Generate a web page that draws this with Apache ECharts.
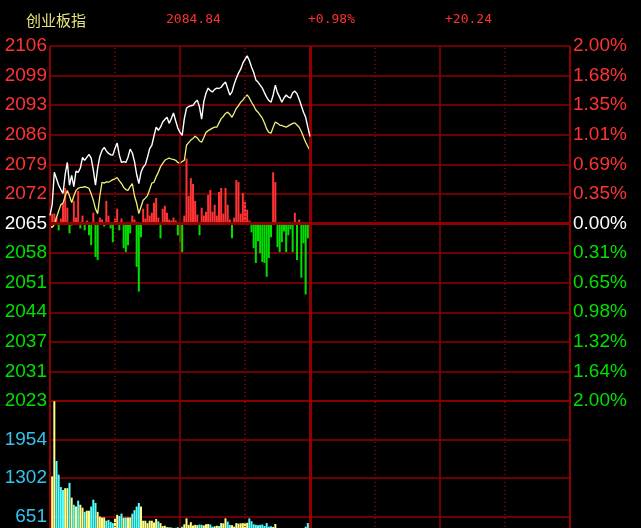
<!DOCTYPE html>
<html>
<head>
<meta charset="utf-8">
<script src="https://cdn.jsdelivr.net/npm/echarts@6/dist/echarts.min.js"></script>
<style>
html,body{margin:0;padding:0;background:#000;overflow:hidden;width:641px;height:528px;}
#chart{width:641px;height:560px;}
</style>
</head>
<body>
<div id="chart"></div>
<script>
// ---- data ----
const headerName = '创业板指';
const headerLast = '2084.84';
const headerPct = '+0.98%';
const headerChg = '+20.24';
const preClose = 2064.60;
const volMax = 2605.6;

const leftLabels = ['2023','2031','2037','2044','2051','2058','2065','2072','2079','2086','2093','2099','2106'];
const rightLabels = ['2.00%','1.64%','1.32%','0.98%','0.65%','0.31%','0.00%','0.35%','0.69%','1.01%','1.35%','1.68%','2.00%'];
const volLabels = ['651','1302','1954'];

// minute prices 9:30 .. 11:30
const priceData = [
2066.5,2069.0,2076.5,2075.0,2073.5,2072.5,2071.6,2076.0,2078.8,2073.5,
2075.8,2073.2,2076.8,2076.5,2077.5,2080.0,2079.3,2080.0,2080.7,2079.8,
2077.0,2073.5,2077.5,2080.2,2081.6,2082.3,2081.5,2080.9,2080.6,2080.5,
2082.1,2083.3,2080.5,2078.8,2079.0,2078.8,2080.0,2081.9,2081.0,2079.0,
2076.0,2073.9,2076.5,2077.7,2078.3,2080.0,2082.0,2082.8,2085.0,2087.0,
2086.3,2087.0,2088.2,2088.8,2089.3,2087.9,2089.0,2090.3,2088.5,2086.8,
2085.8,2085.1,2089.0,2091.4,2091.8,2092.0,2092.1,2092.8,2093.3,2091.7,
2088.9,2093.0,2094.9,2096.1,2095.5,2095.2,2095.8,2096.1,2096.0,2096.3,
2097.0,2097.5,2096.0,2094.5,2095.2,2097.0,2098.4,2099.6,2100.5,2101.9,
2102.8,2103.6,2102.5,2101.0,2099.8,2098.0,2097.5,2096.8,2096.1,2095.0,
2094.0,2093.2,2092.8,2094.5,2096.8,2095.0,2094.0,2092.8,2093.8,2094.5,
2094.0,2093.8,2095.0,2095.4,2094.8,2093.5,2092.0,2090.5,2089.3,2087.0,
2084.84
];
const avgData = [
2064.0,2063.7,2064.4,2066.0,2067.5,2069.0,2069.3,2071.0,2072.3,2071.0,
2069.5,2071.0,2072.3,2072.8,2073.0,2073.0,2073.2,2073.0,2072.8,2071.5,
2070.0,2068.0,2066.9,2071.0,2074.2,2074.0,2074.3,2074.2,2074.5,2074.8,
2075.0,2075.3,2074.5,2073.9,2073.0,2072.5,2072.3,2073.2,2073.9,2071.0,
2069.3,2066.9,2068.5,2070.0,2070.5,2071.1,2072.5,2074.0,2074.2,2075.5,
2076.5,2077.8,2078.6,2079.3,2079.6,2079.8,2079.6,2079.5,2079.3,2078.8,
2078.6,2079.0,2079.3,2082.8,2083.4,2084.0,2084.4,2084.9,2084.5,2083.8,
2083.5,2084.6,2085.8,2086.2,2086.5,2086.8,2087.0,2087.0,2088.0,2089.0,
2089.5,2090.2,2090.5,2090.0,2089.3,2090.3,2091.4,2092.0,2092.8,2093.3,
2094.0,2094.5,2093.8,2092.8,2092.0,2091.0,2090.5,2089.8,2089.1,2088.0,
2086.6,2085.8,2085.6,2087.0,2088.2,2087.9,2087.5,2087.4,2087.2,2087.0,
2087.3,2087.6,2087.9,2088.0,2087.5,2087.0,2086.0,2084.7,2083.5,2082.5,
2081.6
];
// red (+) / green (-) leading bars
const leadData = [
8,10,10,6,-7,5,20,36,16,-10,
-2,23,6,33,-5,8,-7,3,-12,-22,
11,-34,-37,6,4,-3,23,8,-5,-19,
5,15,-7,5,-25,-29,-22,-10,8,4,
-44,-69,-14,15,5,20,8,11,21,26,
6,-15,15,18,11,4,3,6,3,-12,
-19,-29,8,66,28,46,40,23,9,-12,
16,8,12,29,34,12,19,8,32,36,
10,36,19,4,-15,6,44,42,10,31,
22,14,3,-9,-25,-40,-18,-30,-39,-40,
-54,-35,-14,52,42,-24,-29,-19,-8,-29,
-12,-6,-29,11,-37,4,-55,-20,-72,-15,
-30
];
const volumeData = [
0,1330,2600,1590,1360,1150,1100,1130,1130,1220,
970,850,820,920,850,800,730,750,750,820,
935,880,730,650,635,635,580,595,560,540,
620,680,660,700,630,635,635,635,700,760,
820,880,820,580,580,540,580,580,550,610,
570,540,490,495,470,470,465,450,460,470,
455,480,520,620,510,555,500,510,505,515,
510,500,520,525,515,480,485,495,490,540,
535,620,565,510,505,480,540,530,535,540,
535,545,620,570,520,510,505,510,515,490,
540,480,485,475,525,440,430,445,420,430,
435,410,425,420,430,415,440,450,480,540,
635
];

// ---- categories: full trading day ----
const categories = [];
function pad(n){return (n<10?'0':'')+n;}
for (let m = 9*60+30; m <= 11*60+30; m++) categories.push(Math.floor(m/60)+':'+pad(m%60));
for (let m = 13*60+1; m <= 15*60; m++) categories.push(Math.floor(m/60)+':'+pad(m%60));

function padTo(arr){ const out = arr.slice(); while(out.length < categories.length) out.push(null); return out; }

const RED = '#ff3333', GREEN = '#00e000', GRID = '#8f0000';
const labelFont = '"Liberation Sans", Arial, sans-serif';

function vLines(){
  const solid = (i,w)=>({xAxis: categories[i], lineStyle:{color:GRID, width:w, type:'solid'}});
  const dot = (i)=>({xAxis: categories[i], lineStyle:{color:'#a00000', width:1.5, type:[1,3]}});
  return [solid(0,2), dot(30), solid(60,1.5), dot(90), solid(120,3), dot(150), solid(180,1.5), dot(210), solid(240,2)];
}

const chart = echarts.init(document.getElementById('chart'), null, {renderer:'canvas'});
const option = {
  backgroundColor:'#000',
  animation:false,
  graphic:[
    {type:'text', x:26, y:20, style:{text:headerName, fill:'#e6e67a', font:'15px "Noto Sans CJK SC"', verticalAlign:'middle'}},
    {type:'text', x:166, y:20, style:{text:headerLast, fill:'#ff3030', font:'13px "DejaVu Sans Mono"', verticalAlign:'middle'}},
    {type:'text', x:308, y:20, style:{text:headerPct, fill:'#ff3030', font:'13px "DejaVu Sans Mono"', verticalAlign:'middle'}},
    {type:'text', x:445, y:20, style:{text:headerChg, fill:'#ff3030', font:'13px "DejaVu Sans Mono"', verticalAlign:'middle'}}
  ],
  grid:[
    {left:50, top:46, width:520, height:355},
    {left:50, top:401, width:520, height:154}
  ],
  xAxis:[
    {type:'category', gridIndex:0, data:categories, boundaryGap:false, axisLine:{show:false}, axisTick:{show:false}, axisLabel:{show:false}, splitLine:{show:false}},
    {type:'category', gridIndex:1, data:categories, boundaryGap:false, axisLine:{show:false}, axisTick:{show:false}, axisLabel:{show:false}, splitLine:{show:false}}
  ],
  yAxis:[
    {type:'value', gridIndex:0, min:-6, max:6, interval:1, position:'left',
      axisLine:{show:false}, axisTick:{show:false},
      axisLabel:{margin:3, fontSize:19, fontFamily:labelFont,
        formatter:(v)=>leftLabels[Math.round(v)+6],
        color:(v)=>{v=Number(v); return v>0.01?RED:(v<-0.01?GREEN:'#ffffff');}},
      splitLine:{show:true, lineStyle:{color:GRID, width:1.5}}},
    {type:'value', gridIndex:0, min:-6, max:6, interval:1, position:'right',
      axisLine:{show:false}, axisTick:{show:false},
      axisLabel:{margin:3, fontSize:19, fontFamily:labelFont,
        formatter:(v)=>rightLabels[Math.round(v)+6],
        color:(v)=>{v=Number(v); return v>0.01?RED:(v<-0.01?GREEN:'#ffffff');}},
      splitLine:{show:false}},
    {type:'value', gridIndex:0, min:preClose*0.98, max:preClose*1.02, show:false, splitLine:{show:false}},
    {type:'value', gridIndex:0, min:-180, max:180, show:false, splitLine:{show:false}},
    {type:'value', gridIndex:1, min:0, max:volMax, interval:volMax/4, position:'left',
      axisLine:{show:false}, axisTick:{show:false},
      axisLabel:{margin:3, fontSize:19, fontFamily:labelFont, color:'#33c4ee',
        formatter:(v)=>{const k=Math.round(v/(volMax/4)); return (k>=1&&k<=3)?volLabels[k-1]:'';}},
      splitLine:{show:true, lineStyle:{color:GRID, width:1.5}}}
  ],
  series:[
    {type:'bar', name:'lead', xAxisIndex:0, yAxisIndex:3, data:padTo(leadData), barWidth:2,
      itemStyle:{color:(p)=> p.value>0?RED:GREEN}, z:2},
    {type:'line', name:'price', xAxisIndex:0, yAxisIndex:2, data:padTo(priceData), symbol:'none',
      lineStyle:{color:'#ffffff', width:1.4}, z:5,
      markLine:{silent:true, symbol:['none','none'], label:{show:false}, animation:false,
        data: vLines().concat([{yAxis:preClose, lineStyle:{color:GRID, width:3, type:'solid'}}])}},
    {type:'line', name:'avg', xAxisIndex:0, yAxisIndex:2, data:padTo(avgData), symbol:'none',
      lineStyle:{color:'#f0f07a', width:1.3}, z:4},
    {type:'bar', name:'volume', xAxisIndex:1, yAxisIndex:4, data:padTo(volumeData), barWidth:2,
      itemStyle:{color:(p)=>{const i=p.dataIndex; if(i===0) return '#ffff88'; return priceData[i]>=priceData[i-1]?'#ffff88':'#55ffff';}},
      markLine:{silent:true, symbol:['none','none'], label:{show:false}, animation:false, data:vLines()}}
  ]
};
chart.setOption(option);
</script>
</body>
</html>
